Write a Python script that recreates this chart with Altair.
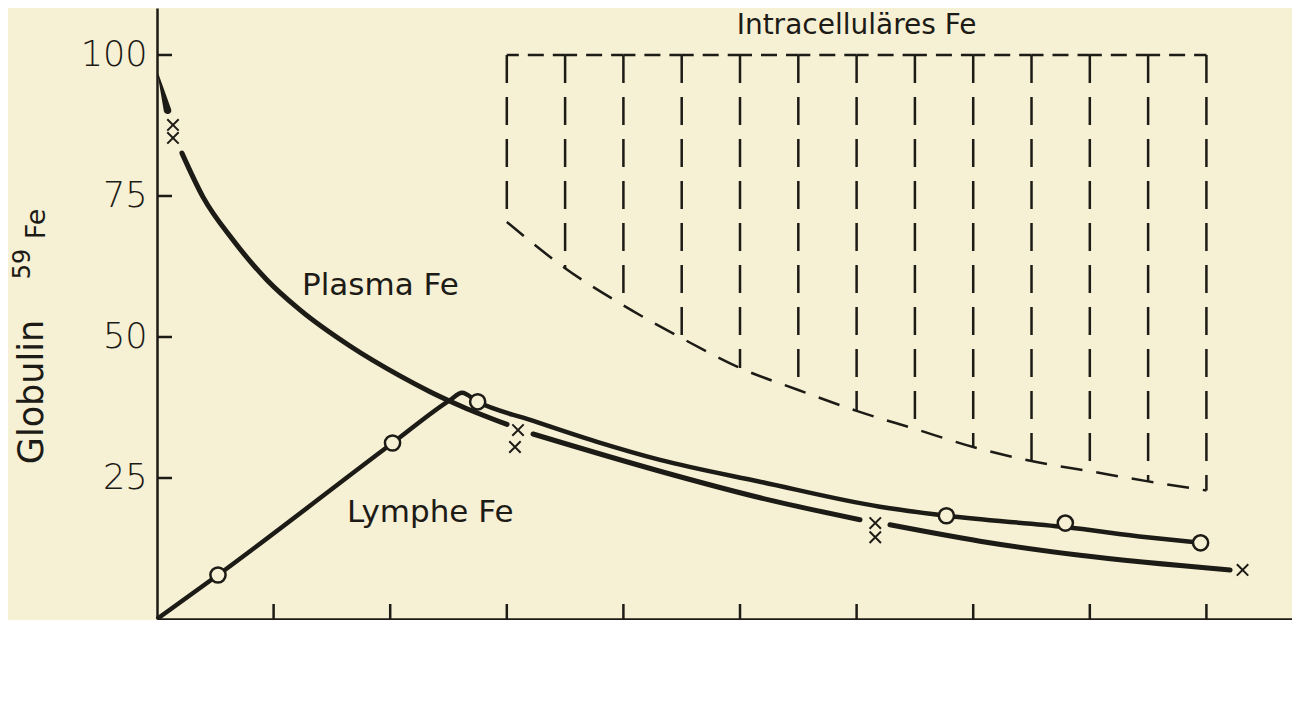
import altair as alt
import pandas as pd

BG = "#f6f0d4"
INK = "#1d1b16"
FONT = "DejaVu Sans"

# ---- data ----
# Plasma Fe: arrow-like start of the curve
arrow_x = [0.01, 0.09]
arrow_y = [96.5, 90.2]
arrow_w = [1.0, 7.5]

# Plasma Fe curve, split where the markers interrupt it
plasma_x = [0.214, 0.395, 0.652, 0.943, 1.226, 1.655, 2.084, 2.341, 2.624, 3.002,
            3.225, 4.314, 5.172, 6.029,
            6.286, 7.058, 7.916, 9.203]
plasma_y = [82.6, 74.8, 67.2, 60.1, 54.8, 48.4, 43.1, 40.3, 37.6, 34.5,
            32.8, 26.2, 21.5, 17.6,
            16.7, 13.8, 11.3, 8.7]
plasma_seg = [1] * 10 + [2] * 4 + [3] * 4

# Plasma Fe measured points (x crosses)
cross_x = [0.137, 0.137, 3.096, 3.07, 6.16, 6.16, 9.31]
cross_y = [87.6, 85.3, 33.5, 30.5, 17.0, 14.5, 8.7]

# Lymphe Fe curve and measured points (open circles)
lymph_x = [0.0, 0.523, 2.02, 2.513, 2.616, 2.75, 3.2, 3.774, 4.314, 5.18, 6.2, 6.77, 7.79, 8.49, 8.95]
lymph_y = [0.0, 7.8, 31.2, 38.8, 40.1, 38.5, 35.3, 31.4, 28.2, 24.3, 19.9, 18.3, 16.3, 14.5, 13.5]
circ_x = [0.523, 2.02, 2.75, 6.77, 7.79, 8.95]
circ_y = [7.8, 31.2, 38.5, 18.3, 17.0, 13.5]

# Intracellular Fe hatched region
cell_x = [3.0, 3.5, 4.0, 4.5, 5.0, 5.5, 6.0, 6.5, 7.0, 7.5, 8.0, 8.5, 9.0]
cell_bottom = [70.4, 62.2, 55.6, 49.8, 44.5, 40.6, 36.9, 33.7, 30.5, 28.0, 26.2, 24.4, 22.8]
cell_top = 100

# axes
y_ticks = [25, 50, 75, 100]
x_ticks = [1, 2, 3, 4, 5, 6, 7, 8, 9]

# annotations
label_text = ["Plasma Fe", "Lymphe Fe", "Intracelluläres Fe"]
label_x = [1.244, 1.63, 6.0]
label_y = [57.4, 17.2, 103.8]
label_size = [31, 31, 28]
label_align = ["left", "left", "center"]

# y-axis title: "Globulin 59Fe" (59 raised as a superscript)
title_parts = ["Globulin", "59", "Fe"]
title_px = [-125, -134, -120]
title_py = [384, 256, 216]
title_fs = [35, 24, 27]

# ---- scales and shared axes ----
xs = alt.Scale(domain=[0, 9.734], nice=False, zero=False)
ys = alt.Scale(domain=[0, 108.33], nice=False, zero=False)
x_axis = alt.Axis(labels=False, ticks=False, grid=False, title=None,
                  domainColor=INK, domainWidth=2.5)
y_axis = alt.Axis(values=y_ticks, ticks=False, tickSize=0, grid=False, title=None,
                  labelPadding=10, labelFontSize=35, labelFont=FONT,
                  labelFontWeight=200, labelColor=INK,
                  domainColor=INK, domainWidth=2.5)


def X(f="x:Q"):
    return alt.X(f, scale=xs, axis=x_axis)


def Y(f="y:Q"):
    return alt.Y(f, scale=ys, axis=y_axis)


df_plasma = pd.DataFrame({"x": plasma_x, "y": plasma_y, "seg": plasma_seg})
df_arrow = pd.DataFrame({"x": arrow_x, "y": arrow_y, "w": arrow_w})
df_cross = pd.DataFrame({"x": cross_x, "y": cross_y})
df_lymph = pd.DataFrame({"x": lymph_x, "y": lymph_y})
df_circ = pd.DataFrame({"x": circ_x, "y": circ_y})
df_cell = pd.DataFrame({"x": cell_x, "y": [cell_top] * len(cell_x), "y2": cell_bottom})
df_top = pd.DataFrame({"x": cell_x[:-1], "x2": cell_x[1:], "y": [cell_top] * (len(cell_x) - 1)})
df_bottom = pd.DataFrame({"x": cell_x, "y": cell_bottom})
df_yt = pd.DataFrame({"y": y_ticks, "x": [0] * len(y_ticks)})
df_xt = pd.DataFrame({"x": x_ticks, "y": [0] * len(x_ticks)})

# inward ticks
yt = alt.Chart(df_yt).mark_rule(strokeWidth=2.5, color=INK).encode(
    y=Y(), x=X(), x2=alt.value(15))
xt = alt.Chart(df_xt).mark_rule(strokeWidth=2.5, color=INK).encode(
    x=X(), y=Y(), y2=alt.value(596))

cells = alt.Chart(df_cell).mark_rule(strokeWidth=2.5, color=INK, strokeDash=[28, 14]).encode(
    x=X(), y=Y(), y2="y2:Q")
top = alt.Chart(df_top).mark_rule(strokeWidth=2.5, color=INK, strokeDash=[12, 9, 16, 9, 14]).encode(
    x=X(), x2="x2:Q", y=Y())
bottom = alt.Chart(df_bottom).mark_line(strokeWidth=2.5, color=INK, strokeDash=[22, 14],
                                        interpolate="monotone").encode(x=X(), y=Y())

plasma = alt.Chart(df_plasma).mark_line(strokeWidth=5, color=INK, interpolate="monotone",
                                        strokeCap="round").encode(x=X(), y=Y(), detail="seg:N")
arrow = alt.Chart(df_arrow).mark_trail(color=INK).encode(
    x=X(), y=Y(), size=alt.Size("w:Q", scale=None, legend=None))
lymph = alt.Chart(df_lymph).mark_line(strokeWidth=4.5, color=INK, interpolate="monotone").encode(
    x=X(), y=Y())

circles = alt.Chart(df_circ).mark_point(shape="circle", filled=True, fill=BG, stroke=INK,
                                        strokeWidth=2.5, size=230, opacity=1).encode(x=X(), y=Y())
crosses = alt.Chart(df_cross).mark_point(shape="M-1,-1L1,1M-1,1L1,-1", filled=False, stroke=INK,
                                         strokeWidth=2.0, size=130, opacity=1).encode(x=X(), y=Y())

lab_layers = []
for t, x, y, s, a in zip(label_text, label_x, label_y, label_size, label_align):
    lab_layers.append(
        alt.Chart(pd.DataFrame({"t": [t], "x": [x], "y": [y]})).mark_text(
            font=FONT, color=INK, baseline="alphabetic", align=a, fontSize=s).encode(
            x=X(), y=Y(), text="t:N"))

ttl_layers = []
for t, px, py, fs in zip(title_parts, title_px, title_py, title_fs):
    ttl_layers.append(
        alt.Chart(pd.DataFrame({"t": [t]})).mark_text(
            font=FONT, color=INK, fontSize=fs, angle=270, align="center", baseline="middle").encode(
            x=alt.value(px), y=alt.value(py), text="t:N"))

chart = alt.layer(
    yt, xt, cells, top, bottom, lymph, plasma, arrow, circles, crosses, *lab_layers, *ttl_layers
).properties(
    width=1135, height=611, background=BG,
    padding={"left": 149, "top": 0, "right": 0, "bottom": 1},
    autosize=alt.AutoSizeParams(type="none"),
).configure_view(stroke=None)

chart.save("out.html", embed_options={"renderer": "svg", "actions": False})
